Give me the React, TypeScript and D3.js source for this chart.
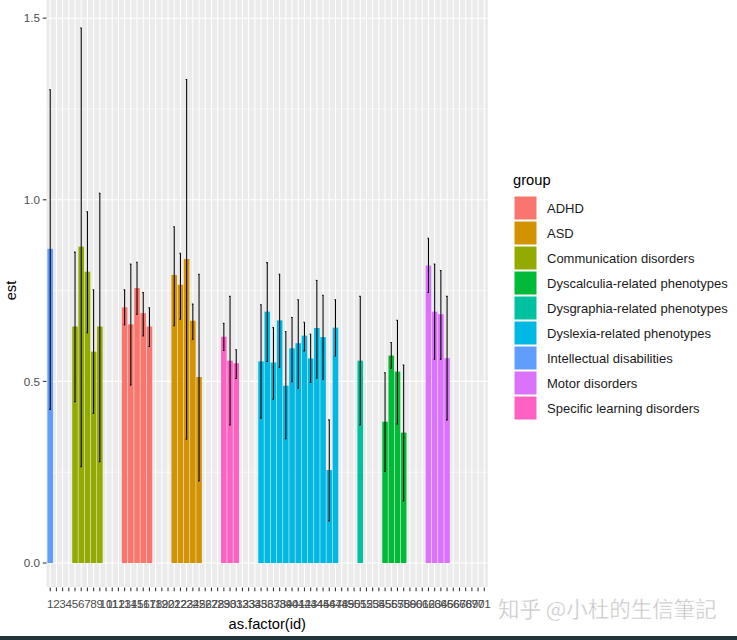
import React from "react";
import * as d3 from "d3";

// factor levels on the x axis
const ids = d3.range(1, 72).map(String);

const groups = [
  "ADHD",
  "ASD",
  "Communication disorders",
  "Dyscalculia-related phenotypes",
  "Dysgraphia-related phenotypes",
  "Dyslexia-related phenotypes",
  "Intellectual disabilities",
  "Motor disorders",
  "Specific learning disorders",
];
const groupColors = [
  "#F8766D",
  "#D39200",
  "#93AA00",
  "#00BA38",
  "#00C19F",
  "#00B9E3",
  "#619CFF",
  "#DB72FB",
  "#FF61C3",
];

// rows that have an estimate
const barIds = [
  1, 5, 6, 7, 8, 9, 13, 14, 15, 16, 17, 21, 22, 23, 24, 25, 29, 30, 31,
  35, 36, 37, 38, 39, 40, 41, 42, 43, 44, 45, 46, 47, 51, 55, 56, 57, 58,
  62, 63, 64, 65,
];
const barGroups = [
  "Intellectual disabilities",
  "Communication disorders", "Communication disorders", "Communication disorders",
  "Communication disorders", "Communication disorders",
  "ADHD", "ADHD", "ADHD", "ADHD", "ADHD",
  "ASD", "ASD", "ASD", "ASD", "ASD",
  "Specific learning disorders", "Specific learning disorders", "Specific learning disorders",
  "Dyslexia-related phenotypes", "Dyslexia-related phenotypes", "Dyslexia-related phenotypes",
  "Dyslexia-related phenotypes", "Dyslexia-related phenotypes", "Dyslexia-related phenotypes",
  "Dyslexia-related phenotypes", "Dyslexia-related phenotypes", "Dyslexia-related phenotypes",
  "Dyslexia-related phenotypes", "Dyslexia-related phenotypes", "Dyslexia-related phenotypes",
  "Dyslexia-related phenotypes",
  "Dysgraphia-related phenotypes",
  "Dyscalculia-related phenotypes", "Dyscalculia-related phenotypes",
  "Dyscalculia-related phenotypes", "Dyscalculia-related phenotypes",
  "Motor disorders", "Motor disorders", "Motor disorders", "Motor disorders",
];
const est = [
  0.865, 0.651, 0.871, 0.802, 0.582, 0.651, 0.704, 0.657, 0.757, 0.688, 0.651,
  0.793, 0.766, 0.837, 0.667, 0.512, 0.623, 0.557, 0.55, 0.555, 0.692, 0.552,
  0.668, 0.488, 0.591, 0.605, 0.626, 0.563, 0.647, 0.622, 0.256, 0.648, 0.557,
  0.389, 0.571, 0.527, 0.359, 0.819, 0.692, 0.685, 0.564,
];
const lower = [
  0.423, 0.444, 0.265, 0.634, 0.412, 0.279, 0.656, 0.49, 0.685, 0.625, 0.596,
  0.653, 0.671, 0.341, 0.616, 0.226, 0.585, 0.38, 0.508, 0.399, 0.555, 0.451,
  0.539, 0.342, 0.499, 0.481, 0.584, 0.497, 0.509, 0.506, 0.116, 0.57, 0.38,
  0.252, 0.536, 0.383, 0.171, 0.745, 0.561, 0.561, 0.394,
];
const upper = [
  1.303, 0.856, 1.473, 0.967, 0.752, 1.018, 0.752, 0.823, 0.828, 0.745, 0.703,
  0.926, 0.853, 1.331, 0.713, 0.795, 0.66, 0.734, 0.587, 0.711, 0.827, 0.648,
  0.795, 0.637, 0.676, 0.725, 0.663, 0.63, 0.778, 0.737, 0.394, 0.725, 0.734,
  0.524, 0.607, 0.668, 0.545, 0.894, 0.823, 0.805, 0.734,
];

const yMajor = [0, 0.5, 1.0, 1.5];
const yMinor = [0.25, 0.75, 1.25];

const W = 737;
const H = 640;
const panel = { left: 46.5, right: 488, top: 0, bottom: 587 };
const font = "'Liberation Sans', Arial, sans-serif";

export default function App() {
  const x = d3
    .scalePoint<string>()
    .domain(ids)
    .range([panel.left, panel.right])
    .padding(0.6);
  const step = x.step();
  const barW = step * 0.9;
  const y = d3.scaleLinear().domain([-0.066, 1.55]).range([panel.bottom, panel.top]);
  const color = d3.scaleOrdinal<string, string>().domain(groups).range(groupColors);

  const rows = barIds.map((id, i) => ({
    id: String(id),
    group: barGroups[i],
    est: est[i],
    lo: lower[i],
    hi: upper[i],
  }));

  return (
    <div style={{ position: "absolute", left: 0, top: 0 }}>
      <svg width={W} height={H} style={{ display: "block", background: "#fff" }}>
        <rect x={panel.left} y={panel.top} width={panel.right - panel.left} height={panel.bottom - panel.top} fill="#EBEBEB" />
        {yMinor.map((v) => (
          <line key={"mn" + v} x1={panel.left} x2={panel.right} y1={y(v)} y2={y(v)} stroke="#fff" strokeWidth={0.55} />
        ))}
        {yMajor.map((v) => (
          <line key={"mj" + v} x1={panel.left} x2={panel.right} y1={y(v)} y2={y(v)} stroke="#fff" strokeWidth={1.07} />
        ))}
        {ids.map((id) => (
          <line key={"vx" + id} x1={x(id)} x2={x(id)} y1={panel.top} y2={panel.bottom} stroke="#fff" strokeWidth={1.07} />
        ))}
        {rows.map((r) => (
          <rect
            key={"b" + r.id}
            x={(x(r.id) as number) - barW / 2}
            y={y(r.est)}
            width={barW}
            height={y(0) - y(r.est)}
            fill={color(r.group)}
          />
        ))}
        {rows.map((r) => {
          const cx = x(r.id) as number;
          return (
            <g key={"e" + r.id} stroke="#000" strokeWidth={1.07}>
              <line x1={cx} x2={cx} y1={y(r.lo)} y2={y(r.hi)} />
              <line x1={cx - 1} x2={cx + 0.5} y1={y(r.lo)} y2={y(r.lo)} />
              <line x1={cx - 1} x2={cx + 0.5} y1={y(r.hi)} y2={y(r.hi)} />
            </g>
          );
        })}

        {/* y axis */}
        {yMajor.map((v) => (
          <g key={"yt" + v}>
            <line x1={panel.left - 3.7} x2={panel.left} y1={y(v)} y2={y(v)} stroke="#333" strokeWidth={1.07} />
            <text x={panel.left - 6.5} y={y(v) + 4.2} textAnchor="end" fontFamily={font} fontSize={11.7} fill="#4D4D4D">
              {v.toFixed(1)}
            </text>
          </g>
        ))}
        <text
          transform={`translate(${16},${(panel.top + panel.bottom) / 2 - 3}) rotate(-90)`}
          textAnchor="middle"
          fontFamily={font}
          fontSize={14.7}
          fill="#000"
        >
          est
        </text>

        {/* x axis */}
        {ids.map((id) => (
          <g key={"xt" + id}>
            <line x1={x(id)} x2={x(id)} y1={panel.bottom + 0.5} y2={panel.bottom + 4.2} stroke="#333" strokeWidth={1.07} />
            <text x={x(id)} y={608} textAnchor="middle" fontFamily={font} fontSize={11.7} fill="#4D4D4D">
              {id}
            </text>
          </g>
        ))}
        <text x={(panel.left + panel.right) / 2} y={629} textAnchor="middle" fontFamily={font} fontSize={14.7} fill="#000">
          as.factor(id)
        </text>

        {/* legend */}
        <text x={513} y={185} fontFamily={font} fontSize={14.7} fill="#000">
          group
        </text>
        {groups.map((g, i) => (
          <g key={"lg" + g}>
            <rect x={514} y={196 + i * 25} width={23} height={24} fill={color(g)} stroke="#fff" strokeWidth={1} />
            <text x={547} y={196 + i * 25 + 12 + 4.6} fontFamily={font} fontSize={13} fill="#1a1a1a">
              {g}
            </text>
          </g>
        ))}

        {/* watermark */}
        <text
          x={498}
          y={617}
          fontFamily="'Noto Sans CJK SC', sans-serif"
          fontSize={21.5}
          fill="#c4c4c4"
          stroke="#ffffff"
          strokeWidth={0.4}
        >
          知乎 @小杜的生信筆記
        </text>
        <rect x={0} y={636} width={W} height={4} fill="#22333a" />
      </svg>
    </div>
  );
}
